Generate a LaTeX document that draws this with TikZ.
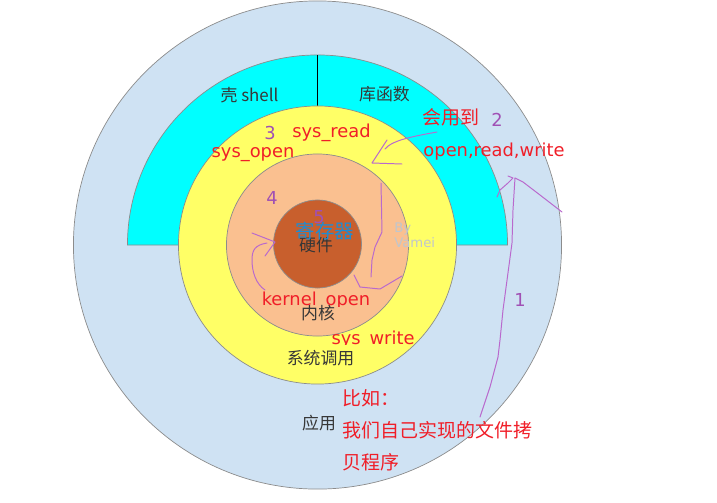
\documentclass[tikz,border=0pt]{standalone}
\usepackage{fontspec}
\setmainfont{DejaVu Sans}
\newfontfamily\cjk{Noto Sans CJK SC}
\usepackage{xcolor}
\definecolor{AppFill}{RGB}{207,226,243}
\definecolor{ShellFill}{RGB}{0,255,255}
\definecolor{SysFill}{RGB}{255,255,102}
\definecolor{KernelFill}{RGB}{250,192,144}
\definecolor{HwFill}{RGB}{200,95,45}
\definecolor{RingBorder}{RGB}{140,140,140}
\definecolor{LabelDark}{RGB}{55,55,55}
\definecolor{NoteRed}{RGB}{240,30,40}
\definecolor{PenPurple}{RGB}{185,105,205}
\definecolor{NumPurple}{RGB}{160,80,180}
\definecolor{RegBlue}{RGB}{30,140,210}
\definecolor{MarkGray}{RGB}{192,198,205}
\usepackage{tikz}
\usetikzlibrary{positioning}
\tikzset{
  % ring of the layer picture
  ring/.style={
    draw=RingBorder,
    line width=0.5pt
  },
  % dark layer name
  lbl/.style={
    text=LabelDark,
    inner sep=0pt,
    font=\cjk\fontsize{12}{14}\selectfont
  },
  % red note, latin
  note/.style={
    text=NoteRed,
    inner sep=0pt,
    font=\fontsize{12.7}{15}\selectfont
  },
  % red note, chinese
  cnote/.style={
    text=NoteRed,
    inner sep=0pt,
    font=\cjk\fontsize{13.5}{16}\selectfont
  },
  % purple number
  num/.style={
    text=NumPurple,
    inner sep=0pt,
    font=\fontsize{12.7}{15}\selectfont
  },
  % hand drawn pen stroke
  pen/.style={
    draw=PenPurple,
    line width=0.7pt,
    line cap=round,
    line join=round
  }
}

\begin{document}
\begin{tikzpicture}[x=0.025cm,y=-0.025cm]
  \useasboundingbox (0,0) rectangle (717,502);
  \coordinate (c) at (317.5,245);

  % The layers
  \filldraw[ring, fill=AppFill] (c) circle (6.1cm);
  \filldraw[ring, fill=ShellFill] (c) ++(-4.75cm,0)
    arc[start angle=180, end angle=0, radius=4.75cm] -- cycle;
  \draw[black, line width=0.6pt] (317.5,55) -- (317.5,107);
  \filldraw[ring, fill=SysFill] (c) circle (3.475cm);
  \filldraw[ring, fill=KernelFill] (c) circle (2.275cm);
  \filldraw[ring, fill=HwFill] (317.5,244) circle (1.1cm);

  % Layer names
  \node[lbl] (shell) at (249.5,95) {壳 shell};
  \node[lbl] (lib) at (384.5,94) {库函数};
  \node[lbl] (hw) at (316,245) {硬件};
  \node[lbl] (kernel) at (318,313) {内核};
  \node[lbl] (syscall) at (320.5,358) {系统调用};
  \node[lbl] (app) at (319,423) {应用};
  \node[text=RegBlue, inner sep=0pt, font=\cjk\fontsize{13.8}{16}\selectfont] (reg) at (325,231) {寄存器};
  \node[text=MarkGray, inner sep=0pt, anchor=base west, font=\fontsize{9.4}{11}\selectfont] (by) at (394,232) {By};
  \node[text=MarkGray, inner sep=0pt, anchor=base west, font=\fontsize{9.4}{11}\selectfont] (vamei) at (394,247) {Vamei};

  % Numbers
  \node[num] (n1) at (520,300) {1};
  \node[num] (n2) at (497,120) {2};
  \node[num] (n3) at (270,133) {3};
  \node[num] (n4) at (272,198) {4};
  \node[num] (n5) at (319,217) {5};

  % Red notes
  \node[cnote] (use) at (451,117) {会用到};
  \node[note, anchor=base] (orw) at (494,156) {open,read,write};
  \node[note, anchor=base] (sread) at (331.5,137) {sys\_read};
  \node[note, anchor=base] (sopen) at (253,157.5) {sys\_open};
  \begin{scope}
    \clip (240,280) rectangle (390,306);
    \node[note, anchor=base] (kopen) at (316,305.5) {kernel\_open};
  \end{scope}
  \begin{scope}
    \clip (320,320) rectangle (430,344.5);
    \node[note, anchor=base] (swrite) at (373,344) {sys\_write};
  \end{scope}
  \node[cnote, anchor=west] (eg) at (342,398) {比如：};
  \node[cnote, anchor=west] (eg2) at (342,430) {我们自己实现的文件拷};
  \node[cnote, anchor=west] (eg3) at (342,462) {贝程序};

  % Pen strokes
  \draw[pen] (437,132) .. controls (415,136) and (392,140) .. (385,149);
  \draw[pen] (387,140) -- (372,163) -- (402,164);
  \draw[pen] (480,417) -- (490,387) -- (498,357) -- (500,340) -- (503,310)
    -- (512,243) -- (513,210) -- (515,178);
  \draw[pen] (497,197) -- (500,190) -- (508,183) -- (513,178) -- (508,176);
  \draw[pen] (515,178) -- (523,182) -- (540,195) -- (562,212);
  \draw[pen] (252,233) -- (270,240) -- (275,242) -- (265,256);
  \draw[pen] (267,243) .. controls (255,245) and (252,250) .. (252,260)
    .. controls (252,272) and (256,284) .. (265,290);
  \draw[pen] (381,183) -- (382,232) -- (375,247) -- (372,260) -- (371,277);
  \draw[pen] (354,275) -- (360,287) -- (380,289) -- (402,276);
\end{tikzpicture}
\end{document}
